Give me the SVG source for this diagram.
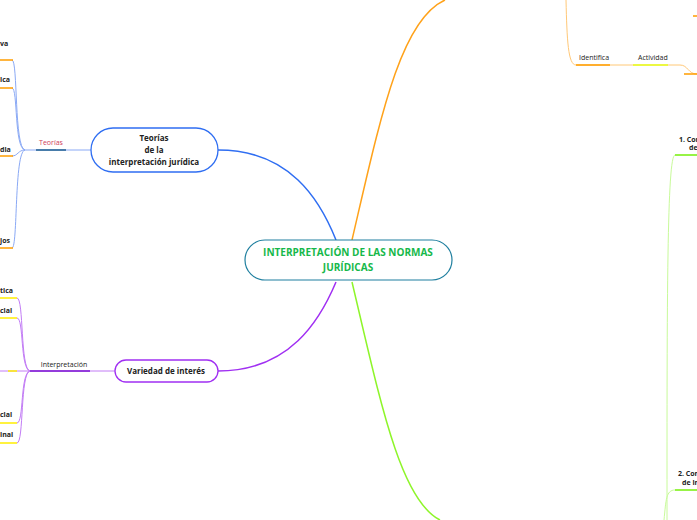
<svg xmlns="http://www.w3.org/2000/svg" width="697" height="520" viewBox="0 0 697 520">
<style>
text{font-family:"Open Sans","Noto Sans",sans-serif;fill:#222}
.b{font-weight:bold;font-size:7px}
.s{font-size:7px}
</style>
<rect width="697" height="520" fill="#fff"/>
<g id="connectors" fill="none">
<path d="M336,240 C320,200 290,150 218,150" stroke="#2f6ef2" stroke-width="1.5"/>
<path d="M91,150 L25,150" stroke="#8aa9f5" stroke-width="1"/>
<path d="M36,150 L66,150" stroke="#1f5f8f" stroke-width="1.5"/>
<path d="M25,150 C14,148 18,60 12,60 M25,150 C14,148 18,88 12,88 M25,150 C18,150 18,156 12,156 M25,150 C14,152 18,248 12,248" stroke="#8aa9f5" stroke-width="1"/>
<path d="M0,60 H13 M0,88 H13 M0,156 H13 M0,248 H13" stroke="#ff9d00" stroke-width="1.5"/>
<path d="M336,282 C320,320 290,371 218,371" stroke="#a02ff2" stroke-width="1.5"/>
<path d="M115,371 L30,371" stroke="#c27cf5" stroke-width="1"/>
<path d="M30,371 L90,371" stroke="#7a10d0" stroke-width="1.5"/>
<path d="M30,371 C20,369 24,298 17,298 M30,371 C20,369 24,318 17,318 M30,371 L0,371 M30,371 C20,373 24,423 17,423 M30,371 C20,373 24,443 17,443" stroke="#c27cf5" stroke-width="1"/>
<path d="M0,298 H17 M0,318 H17 M0,423 H17 M0,443 H17 M8,371 H17" stroke="#ffee00" stroke-width="1.5"/>
<path d="M352,240 C380,120 400,20 445,0" stroke="#ffa21a" stroke-width="1.5"/>
<path d="M566,0 C567,40 568,65 576,65 L680,65 C688,65 688,74 697,74" stroke="#ffc877" stroke-width="1"/>
<path d="M576,65 H610 M684,74 H697 M693,16 H697" stroke="#ff9d00" stroke-width="1.5"/>
<path d="M633,65 H668" stroke="#e6ff1a" stroke-width="1.5"/>
<path d="M352,282 C380,400 400,500 440,520" stroke="#8ef52a" stroke-width="1.5"/>
<path d="M667,520 C667,300 667,155 675,155 L697,155" stroke="#c8fa9a" stroke-width="1"/>
<path d="M664,520 C666,500 666,490 675,490 L697,490" stroke="#c8fa9a" stroke-width="1"/>
<path d="M675,155 H697 M675,490 H697" stroke="#7fef1a" stroke-width="1.5"/>
</g>
<g id="center">
<rect x="245" y="240" width="207" height="40" rx="20" fill="#fff" stroke="#1f7f9f" stroke-width="1.2"/>
<text x="348" y="256" text-anchor="middle" font-size="10" font-weight="bold" style="fill:#16b84a">INTERPRETACIÓN DE LAS NORMAS</text>
<text x="348" y="271" text-anchor="middle" font-size="10" font-weight="bold" style="fill:#16b84a">JURÍDICAS</text>
</g>
<g id="teorias">
<rect x="91" y="128" width="127" height="44" rx="22" fill="#fff" stroke="#2f6ef2" stroke-width="1.3"/>
<text x="154" y="141" text-anchor="middle" font-size="8" font-weight="bold">Teorías</text>
<text x="154" y="153" text-anchor="middle" font-size="8" font-weight="bold">de la</text>
<text x="154" y="165" text-anchor="middle" font-size="8" font-weight="bold">interpretación jurídica</text>
<text x="51" y="145" text-anchor="middle" class="s" style="fill:#d0405a">Teorías</text>
<text x="0" y="46" class="b">va</text>
<text x="0" y="82" class="b">ica</text>
<text x="0" y="152" class="b">dia</text>
<text x="0" y="243" class="b">jos</text>
</g>
<g id="variedad">
<rect x="115" y="360" width="103" height="22" rx="11" fill="#fff" stroke="#a02ff2" stroke-width="1.3"/>
<text x="166" y="374" text-anchor="middle" font-size="8" font-weight="bold">Variedad de interés</text>
<text x="64" y="367" text-anchor="middle" class="s">Interpretación</text>
<text x="0" y="293" class="b">tica</text>
<text x="0" y="313" class="b">cial</text>
<text x="0" y="417" class="b">cial</text>
<text x="0" y="437" class="b">inal</text>
</g>
<g id="identifica">
<text x="579" y="60" class="s">Identifica</text>
<text x="638" y="60" class="s">Actividad</text>
</g>
<g id="green">
<text x="679" y="142" class="b" font-size="6">1. Con</text>
<text x="689" y="150" class="b" font-size="6">de</text>
<text x="678" y="476" class="b" font-size="6">2. Con</text>
<text x="682" y="485" class="b" font-size="6">de in</text>
</g>
</svg>
